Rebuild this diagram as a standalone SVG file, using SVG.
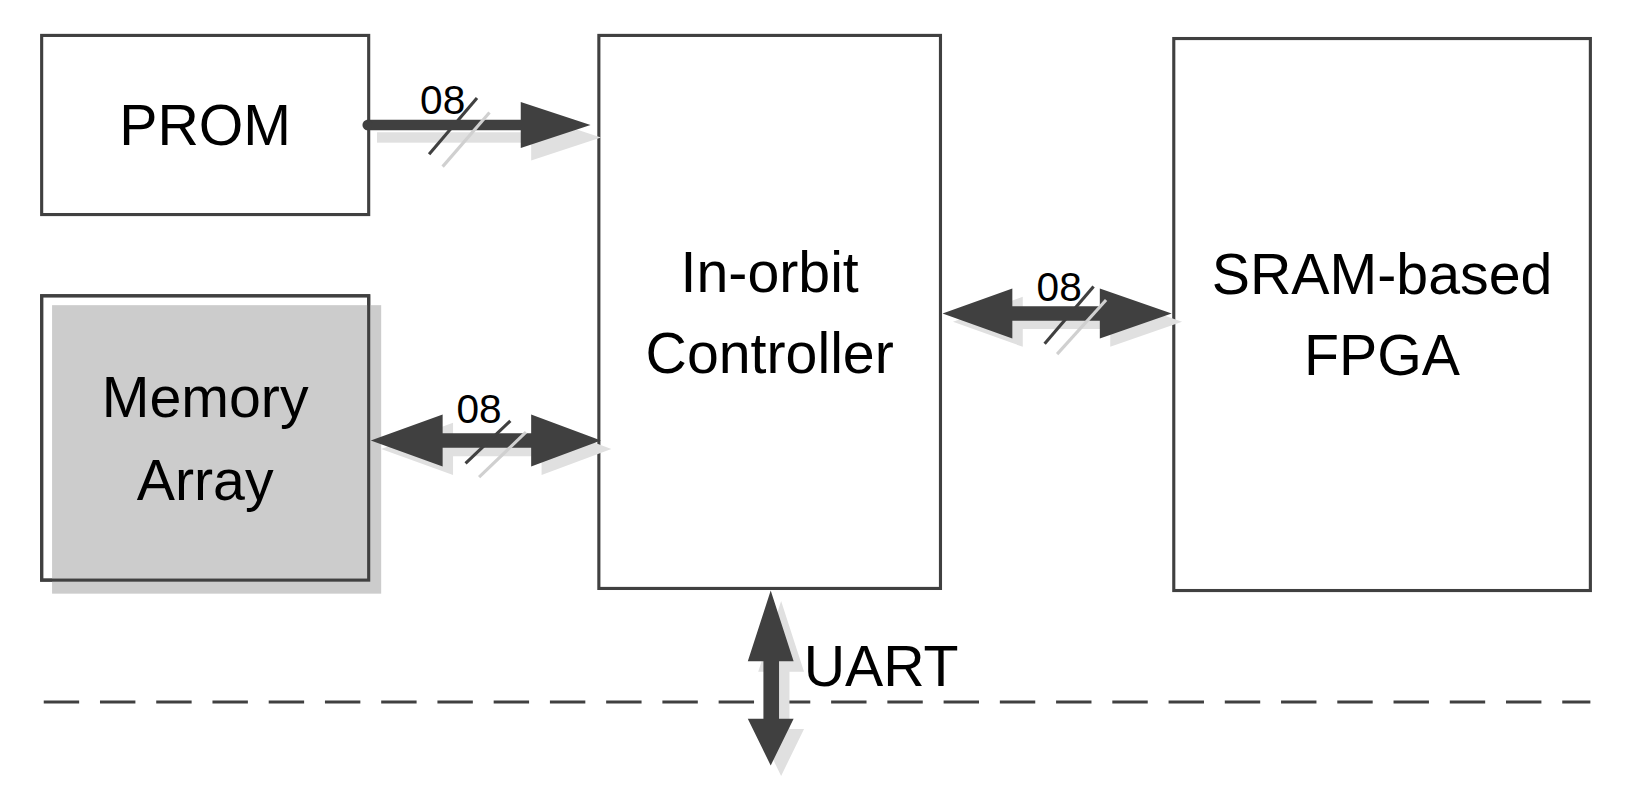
<svg xmlns="http://www.w3.org/2000/svg" width="1630" height="789" viewBox="0 0 1630 789">
<style>
.box{fill:#fff;stroke:#404040;stroke-width:3}
.t{font-family:"Liberation Sans",Arial,sans-serif;font-size:55px;fill:#000;text-anchor:middle}
.s{font-family:"Liberation Sans",Arial,sans-serif;font-size:39px;fill:#000;text-anchor:middle}
.a{fill:#404040}
.sh{fill:#e0e0e0}
.sl{stroke:#404040;stroke-width:3}
.sls{stroke:#d0d0d0;stroke-width:3}
</style>
<rect width="1630" height="789" fill="#fff"/>
<g transform="scale(1.0415)">
<g id="prom"><rect class="box" x="40" y="34" width="314" height="172"/><text class="t" x="197" y="139">PROM</text></g>
<g id="memory"><rect class="box" x="40" y="284" width="314" height="273"/><rect x="50" y="293" width="316" height="277" fill="#cccccc"/><rect x="40" y="284" width="314" height="273" fill="none" stroke="#404040" stroke-width="3"/><text class="t" x="197" y="400">Memory</text><text class="t" x="197" y="480">Array</text></g>
<g id="controller"><rect class="box" x="575" y="34" width="328" height="531"/><text class="t" x="739" y="280">In-orbit</text><text class="t" x="739" y="358">Controller</text></g>
<g id="fpga"><rect class="box" x="1127" y="37" width="400" height="530"/><text class="t" x="1327" y="282">SRAM-based</text><text class="t" x="1327" y="360">FPGA</text></g>
<g id="connectors">
<g transform="translate(10,12)" class="sh"><rect x="352" y="115" width="150" height="10"/><polygon points="500,98 567,120 500,142"/></g>
<path class="a" d="M352,115 H500 V98 L567,120 L500,142 V125 H352 Z"/><circle class="a" cx="353" cy="120" r="5"/>
<line class="sls" x1="425" y1="160" x2="470" y2="108"/><line class="sl" x1="412" y1="148" x2="458" y2="94"/>
<text class="s" x="425" y="109">08</text>

<g transform="translate(10,8)" class="sh"><path d="M356,423 L425,398 V416 H510 V398 L577,423 L510,448 V430 H425 V448 Z"/></g>
<path class="a" d="M356,423 L425,398 V416 H510 V398 L577,423 L510,448 V430 H425 V448 Z"/>
<line class="sls" x1="460" y1="458" x2="505" y2="415"/><line class="sl" x1="447" y1="445" x2="490" y2="404"/>
<text class="s" x="460" y="406">08</text>

<g transform="translate(10,8)" class="sh"><path d="M905,301 L972,277 V294 H1056 V277 L1125,301 L1056,325 V308 H972 V325 Z"/></g>
<path class="a" d="M905,301 L972,277 V294 H1056 V277 L1125,301 L1056,325 V308 H972 V325 Z"/>
<line class="sls" x1="1015" y1="340" x2="1062" y2="288"/><line class="sl" x1="1003" y1="330" x2="1050" y2="275"/>
<text class="s" x="1017" y="289">08</text>

<line x1="42" y1="674" x2="1527" y2="674" stroke="#404040" stroke-width="3" stroke-dasharray="34,20"/>
<g transform="translate(10,10)" class="sh"><path d="M740,567 L762,635 H748 V690 H762 L740,735 L718,690 H733 V635 H718 Z"/></g>
<path class="a" d="M740,567 L762,635 H748 V690 H762 L740,735 L718,690 H733 V635 H718 Z"/>
<text class="t" x="846" y="659">UART</text>
</g>
</g>
</svg>
